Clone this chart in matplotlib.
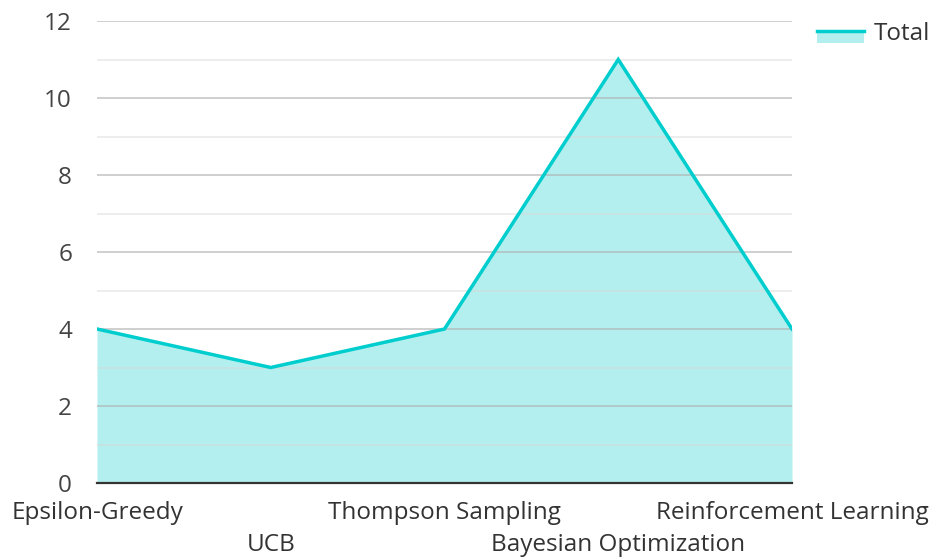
import matplotlib
matplotlib.use("Agg")
import matplotlib.pyplot as plt
from matplotlib.patches import Rectangle
from matplotlib.lines import Line2D
from matplotlib.legend_handler import HandlerBase

plt.rcParams['font.family'] = ['Open Sans', 'DejaVu Sans']

categories = ["Epsilon-Greedy", "UCB", "Thompson Sampling", "Bayesian Optimization", "Reinforcement Learning"]
values = [4, 3, 4, 11, 4]
series_name = "Total"
y_ticks = [0, 2, 4, 6, 8, 10, 12]

line_color = "#00cdcd"
fill_color = "#b2efee"
FS = 17.5

fig = plt.figure(figsize=(9.3, 5.57), dpi=100)
ax = fig.add_axes([97/930, 1-483/557, (792-97)/930, (483-21)/557])

x = list(range(len(categories)))
ax.fill_between(x, values, 0, color=fill_color, alpha=1.0, linewidth=0, zorder=1)
ax.plot(x, values, color=line_color, linewidth=2.5, zorder=3, solid_joinstyle='miter')

# gridlines drawn over the fill (semi-transparent)
for v in range(1, 13):
    if v % 2 == 0:
        ax.axhline(v, color="#b0b0b0", linewidth=1.2, alpha=0.7, zorder=2)
    else:
        ax.axhline(v, color="#d8d8d8", linewidth=1.2, alpha=0.55, zorder=2)
ax.axhline(0, color="#333333", linewidth=1.6, zorder=4, clip_on=False)

ax.set_xlim(0, len(categories) - 1)
ax.set_ylim(0, 12)
ax.set_yticks(y_ticks)
ax.set_yticklabels([str(t) for t in y_ticks], fontsize=FS, color="#444444")
ax.tick_params(axis='y', length=0, pad=18)
ax.set_xticks(x)
ax.set_xticklabels([])
ax.tick_params(axis='x', length=0)
for s in ax.spines.values():
    s.set_visible(False)

for i, c in enumerate(categories):
    off = 30 if i % 2 == 0 else 62
    ax.annotate(c, xy=(i, 0), xycoords='data', xytext=(0, -off), textcoords='offset pixels',
                ha='center', va='center', fontsize=FS, color="#333333", annotation_clip=False)


class AreaHandler(HandlerBase):
    def create_artists(self, legend, orig_handle, xdescent, ydescent, width, height, fontsize, trans):
        cy = -ydescent + height / 2
        r = Rectangle((-xdescent, cy - 0.7 * height), width, 0.7 * height, facecolor=fill_color,
                      edgecolor='none', transform=trans)
        ln = Line2D([-xdescent, -xdescent + width], [cy, cy],
                    color=line_color, linewidth=2.5, transform=trans)
        return [r, ln]

handle = Rectangle((0, 0), 1, 1)
leg = fig.legend([handle], [series_name], handler_map={Rectangle: AreaHandler()},
                 loc='center right', bbox_to_anchor=(1.0, 1 - 34/557), frameon=False,
                 fontsize=FS, handlelength=1.95, handletextpad=0.4, borderaxespad=0, borderpad=0)
for t in leg.get_texts():
    t.set_color("#333333")

fig.savefig("out.png", dpi=100)
